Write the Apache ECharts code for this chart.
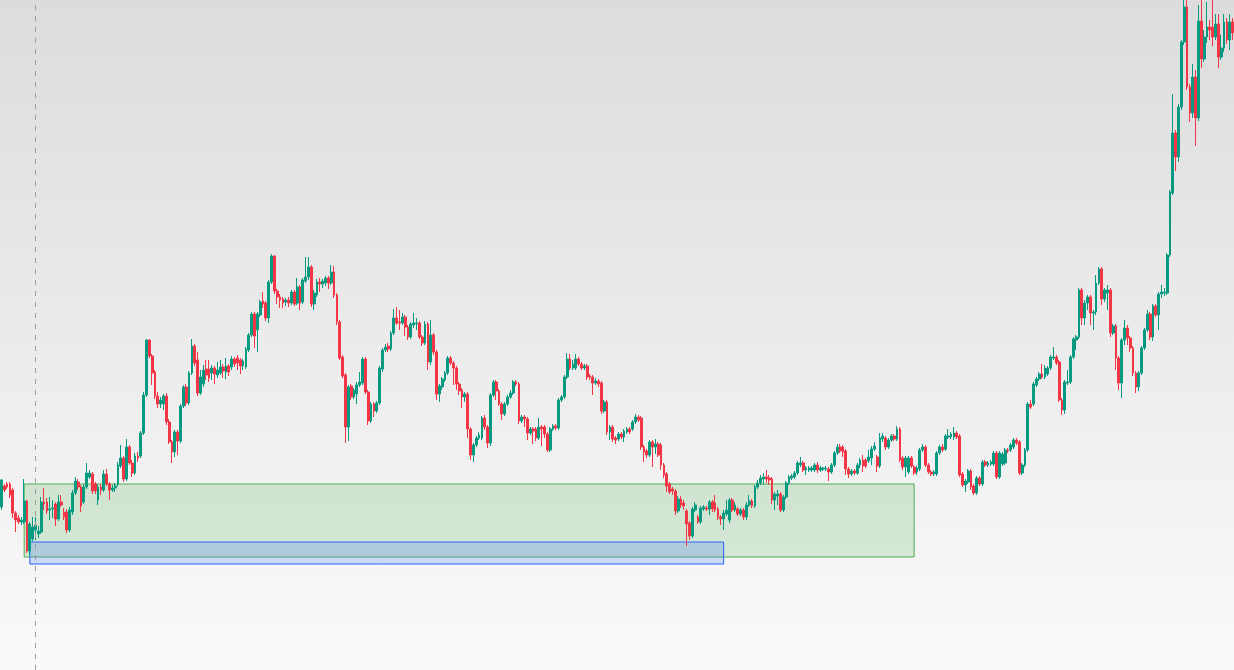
<!DOCTYPE html>
<html>
<head>
<meta charset="utf-8">
<script src="https://cdn.jsdelivr.net/npm/echarts@6/dist/echarts.min.js"></script>
<style>
html,body{margin:0;padding:0;background:#eee;}
#c{width:1234px;height:670px;}
</style>
</head>
<body>
<div id="c"></div>
<script>
// OHLC values (price units, arbitrary scale)
const opens = [
163,184,186,186,180,157,152,148,148,169,119,131,140,136,138,168,168,160,161,166,151,168,158,158,140,158,177,188,183,168,183,193,196,186,
170,183,180,196,186,180,182,186,204,212,191,223,207,197,214,214,237,275,330,314,298,274,266,266,274,248,228,218,238,229,264,283,267,297,324,310,277,286,301,301,297,302,295,297,303,298,304,303,311,
312,310,304,303,320,335,356,340,355,369,367,352,388,414,379,373,371,368,370,367,378,367,383,368,389,393,403,366,375,388,386,387,392,387,398,375,348,313,295,243,284,273,276,285,287,311,278,249,266,259,267,301,320,
324,321,337,352,348,347,353,343,333,345,346,347,333,327,346,308,335,318,276,283,290,297,312,307,302,286,280,273,276,241,215,225,232,232,252,243,227,275,288,279,266,256,266,273,277,288,286,249,253,251,237,241,241,232,243,243,236,220,241,244,
242,270,273,293,311,302,302,311,306,302,304,294,293,287,289,287,259,268,238,243,232,231,236,233,238,241,241,248,253,252,223,219,215,228,223,226,225,205,196,186,181,179,159,171,167,159,147,134,160,153,
148,161,162,161,168,167,161,153,151,156,150,170,160,161,156,160,153,165,169,164,183,187,191,193,192,191,170,174,176,160,173,187,192,193,197,205,207,200,200,200,200,205,200,201,201,201,198,205,217,223,223,219,201,196,199,197,205,210,210,209,212,221,213,204,
231,232,223,230,234,231,241,212,203,198,212,203,198,201,220,223,205,198,196,196,217,223,221,233,233,233,237,234,196,185,188,199,184,177,192,186,208,205,206,206,217,193,206,207,220,220,223,230,228,197,205,220,266,266,285,291,296,293,296,302,312,313,
308,270,260,287,288,313,330,333,380,352,367,373,357,358,387,401,371,377,380,337,344,312,287,330,342,332,322,297,283,297,322,340,356,333,364,355,376,377,377,415,
477,537,513,563,628,663,583,557,593,552,649,611,633,643,643,633,646,613,622,648,630,648
];
const closes = [
190,180,183,175,157,150,148,150,169,119,146,143,145,139,168,166,159,161,162,151,168,165,153,140,160,177,189,183,164,183,197,197,179,179,
183,180,196,186,180,182,184,205,212,191,223,207,197,214,212,237,275,330,314,297,274,266,270,274,248,228,218,238,229,264,283,267,297,324,307,277,293,300,295,292,302,296,300,303,299,304,298,311,306,
307,304,309,321,335,356,334,356,368,366,352,388,414,379,373,370,367,370,367,378,366,383,367,390,393,403,366,377,388,386,389,392,387,398,375,348,312,294,243,283,273,280,285,288,311,278,249,266,259,267,302,320,323,
321,337,352,347,347,353,343,333,346,347,347,333,327,346,308,335,318,276,284,291,297,312,307,302,286,279,273,276,241,215,225,232,235,252,243,227,275,288,279,266,256,266,273,277,288,286,249,253,251,237,241,239,232,243,241,236,220,241,244,242,
270,273,293,311,302,306,311,306,302,304,293,293,287,289,286,259,268,238,243,231,230,236,233,239,241,238,248,253,250,223,218,215,228,223,226,215,205,195,184,178,179,159,171,165,164,146,134,161,165,148,
162,163,161,168,161,160,153,151,157,160,170,160,165,156,160,153,165,169,164,183,187,192,193,191,190,170,176,176,160,173,187,193,194,197,207,207,200,202,202,202,205,200,202,202,202,198,205,217,223,219,218,201,196,199,197,205,210,204,204,213,221,224,204,232,
234,223,230,234,231,241,210,203,212,212,204,197,202,220,223,205,198,196,198,217,223,220,234,234,236,237,233,195,185,189,199,183,177,192,186,208,205,207,208,217,193,217,216,220,219,225,230,227,197,205,220,266,263,286,291,296,293,302,302,313,313,307,
270,260,288,288,313,331,333,380,352,367,373,357,358,387,401,371,380,380,337,344,312,287,330,342,332,322,297,283,297,322,340,356,333,364,355,376,378,378,415,478,
537,513,563,628,663,583,557,593,552,649,611,633,643,640,633,646,613,622,648,630,648,637
];
const lows = [
160,178,181,172,152,138,146,145,146,117,115,129,130,132,136,160,156,150,152,144,149,163,150,137,138,155,175,180,158,166,181,191,176,176,
165,175,178,184,170,178,178,184,202,188,189,205,193,195,208,212,235,273,312,285,271,262,262,260,245,226,207,213,215,227,262,264,265,295,304,274,275,283,290,288,290,286,292,295,292,291,294,300,303,
300,296,300,301,318,333,322,318,353,362,349,347,386,376,366,362,362,364,363,365,364,365,360,366,387,390,363,360,373,378,382,384,381,385,372,345,310,292,227,229,270,271,266,283,285,276,245,247,253,257,265,298,318,
318,319,335,345,340,345,334,330,331,342,340,331,324,325,300,305,315,270,268,280,288,295,305,285,280,275,262,268,232,210,208,223,230,230,240,222,224,273,270,264,250,254,264,271,275,284,246,247,243,230,235,226,229,230,224,232,218,218,239,240,
240,268,271,291,300,300,300,304,300,300,290,290,275,285,283,256,257,235,230,228,226,229,231,228,236,236,239,246,248,220,208,212,213,203,216,213,200,192,178,176,175,155,157,162,160,124,130,132,158,146,
146,159,159,155,158,158,150,145,140,154,147,158,158,154,154,150,150,163,162,162,181,185,185,187,185,166,160,165,158,158,171,185,190,191,195,203,198,195,198,198,198,197,198,199,199,189,196,203,215,217,213,195,192,194,195,195,202,198,202,207,205,219,198,202,
228,220,221,228,229,229,208,200,193,196,202,195,195,199,218,203,196,194,194,194,215,218,219,231,231,230,231,193,183,178,186,180,175,175,184,184,203,203,204,204,191,191,204,205,217,218,221,225,195,195,203,218,261,264,283,289,291,291,294,300,310,305,
268,255,256,285,286,311,320,331,345,345,360,345,340,355,385,365,368,360,333,335,300,280,272,325,325,318,294,277,279,295,320,338,330,329,353,340,372,374,375,413,
475,499,508,560,625,580,548,552,524,549,602,608,627,630,624,630,602,610,618,626,620,630
];
const highs = [
191,186,188,188,182,159,155,153,191,170,148,153,153,144,173,182,172,173,170,168,175,175,162,161,163,180,193,191,185,186,207,200,198,188,
186,186,200,201,188,185,187,208,225,214,231,225,210,217,218,239,278,331,331,316,300,278,273,276,277,251,230,240,240,266,285,286,299,331,326,318,300,305,310,310,305,304,308,310,306,312,306,314,313,
315,312,311,323,337,358,358,358,370,378,369,390,416,415,381,376,373,372,373,380,380,392,385,392,413,413,405,380,391,392,391,394,394,405,404,377,350,315,297,285,286,282,288,298,313,313,280,268,268,269,304,322,326,
327,339,361,363,360,357,355,345,348,357,352,349,335,349,348,350,337,320,286,293,299,314,314,309,304,288,282,278,278,243,227,234,238,254,255,245,277,290,290,281,268,268,275,280,290,290,288,255,255,253,243,243,243,252,245,245,238,243,246,246,
272,275,295,317,316,310,316,313,308,306,306,296,295,292,291,289,270,270,245,245,234,238,238,241,243,243,250,256,255,254,225,221,230,230,231,228,227,207,198,188,183,181,174,174,170,161,149,163,168,155,
164,165,164,170,170,175,163,155,160,170,172,172,168,163,162,162,168,175,171,185,190,195,197,200,195,193,178,180,178,175,189,195,196,199,209,213,209,204,204,204,207,208,204,203,204,203,207,219,226,226,225,221,203,201,201,207,212,215,212,220,224,228,215,237,
237,234,232,236,236,244,243,214,214,214,214,205,204,222,226,225,207,200,200,219,225,226,236,241,238,243,239,236,198,191,201,201,186,194,194,210,210,209,210,219,219,219,218,222,222,227,232,232,230,207,222,268,270,288,293,298,306,305,304,315,323,315,
310,272,290,300,315,333,335,382,382,370,375,375,360,395,403,403,382,385,382,346,346,314,332,350,345,334,324,299,299,324,342,360,358,366,366,378,385,382,417,480,
576,540,566,630,670,670,586,606,600,665,670,640,668,650,670,656,656,635,656,652,656,652
];
// Candle index labels
const categories = opens.map((_, i) => 'bar' + i);

// Zones drawn on the chart: [first candle, last candle, upper price, lower price]
const greenZone = [8, 321, 186, 113];
const blueZone = [10, 254, 128, 106];
// Vertical dashed marker at this candle
const markerBar = 12;

const data = opens.map((o, i) => [o, closes[i], lows[i], highs[i]]);

const chart = echarts.init(document.getElementById('c'), null, {renderer: 'canvas'});
chart.setOption({
  animation: false,
  backgroundColor: {
    type: 'linear', x: 0, y: 0, x2: 0, y2: 1,
    colorStops: [{offset: 0, color: '#dcdcdc'}, {offset: 1, color: '#fafafa'}]
  },
  grid: {left: 0, right: 0, top: 0, bottom: 0},
  xAxis: {type: 'category', data: categories, show: false, boundaryGap: true},
  yAxis: {type: 'value', min: 0, max: 670, show: false, splitLine: {show: false}},
  series: [{
    type: 'candlestick',
    data: data,
    barWidth: '80%',
    clip: true,
    itemStyle: {
      color: '#089981', color0: '#f23645',
      borderColor: '#089981', borderColor0: '#f23645', borderColorDoji: '#089981',
      borderWidth: 1
    },
    markArea: {
      silent: true,
      label: {show: false},
      data: [
        [{xAxis: greenZone[0], yAxis: greenZone[2],
          itemStyle: {color: 'rgba(76,175,80,0.2)', borderColor: '#4caf50', borderWidth: 1, opacity: 1}},
         {xAxis: greenZone[1], yAxis: greenZone[3]}],
        [{xAxis: blueZone[0], yAxis: blueZone[2],
          itemStyle: {color: 'rgba(41,98,255,0.2)', borderColor: '#2962ff', borderWidth: 1, opacity: 1}},
         {xAxis: blueZone[1], yAxis: blueZone[3]}]
      ]
    },
    markLine: {
      silent: true,
      symbol: ['none', 'none'],
      label: {show: false},
      lineStyle: {color: '#9e9e9e', type: [5, 6], width: 1},
      data: [{xAxis: markerBar}]
    }
  }]
});
</script>
</body>
</html>
